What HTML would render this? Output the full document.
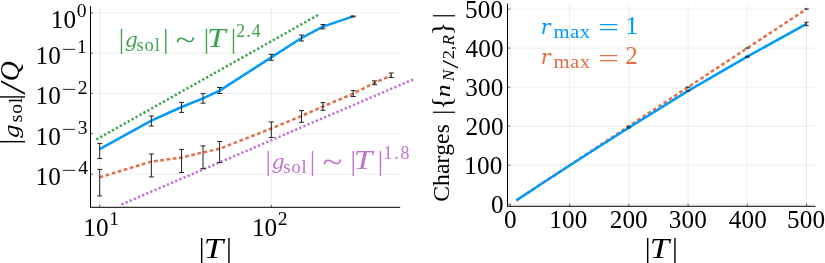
<!DOCTYPE html>
<html lang="en"><head><meta charset="utf-8"><title>Scaling of g_sol and conserved charges</title>
<style>
html,body{margin:0;padding:0;background:#fff;}
body{width:825px;height:263px;overflow:hidden;font-family:"Liberation Serif",serif;}
svg{display:block;}
text{white-space:pre;}
</style></head>
<body>
<svg width="825" height="263" viewBox="0 0 825 263">
<rect width="825" height="263" fill="#fff"/>
<g id="left-panel">
<line x1="90.50" y1="12.80" x2="400.20" y2="12.80" stroke="#000" stroke-width="1" stroke-opacity="0.07"/>
<line x1="90.50" y1="53.20" x2="400.20" y2="53.20" stroke="#000" stroke-width="1" stroke-opacity="0.07"/>
<line x1="90.50" y1="93.40" x2="400.20" y2="93.40" stroke="#000" stroke-width="1" stroke-opacity="0.07"/>
<line x1="90.50" y1="133.70" x2="400.20" y2="133.70" stroke="#000" stroke-width="1" stroke-opacity="0.07"/>
<line x1="90.50" y1="174.20" x2="400.20" y2="174.20" stroke="#000" stroke-width="1" stroke-opacity="0.07"/>
<line x1="99.70" y1="6.00" x2="99.70" y2="207.30" stroke="#000" stroke-width="1" stroke-opacity="0.07"/>
<line x1="271.30" y1="6.00" x2="271.30" y2="207.30" stroke="#000" stroke-width="1" stroke-opacity="0.07"/>
<polyline points="96.30,139.50 319.30,14.30" fill="none" stroke="#3EA44E" stroke-width="2.5" stroke-dasharray="2.3 2.2" stroke-linejoin="round"/>
<polyline points="121.40,204.50 413.00,79.50" fill="none" stroke="#C371D2" stroke-width="2.5" stroke-dasharray="2.3 2.2" stroke-linejoin="round"/>
<polyline points="99.70,149.20 151.36,120.60 181.57,107.00 203.01,98.30 219.64,90.60 271.30,57.40 301.52,38.00 322.96,26.60 353.17,16.40" fill="none" stroke="#009AFA" stroke-width="2.5" stroke-linejoin="round"/>
<polyline points="99.70,177.30 151.36,161.60 181.57,157.60 203.01,152.30 219.64,148.80 271.30,128.50 301.52,116.00 322.96,106.50 353.17,93.70 374.61,82.80 391.24,75.30" fill="none" stroke="#E36F47" stroke-width="2.5" stroke-dasharray="3.7 2.6" stroke-linejoin="round"/>
<line x1="99.70" y1="143.40" x2="99.70" y2="158.60" stroke="#222" stroke-width="1.0"/>
<line x1="97.20" y1="143.40" x2="102.20" y2="143.40" stroke="#222" stroke-width="1.0"/>
<line x1="97.20" y1="158.60" x2="102.20" y2="158.60" stroke="#222" stroke-width="1.0"/>
<line x1="151.36" y1="116.00" x2="151.36" y2="126.00" stroke="#222" stroke-width="1.0"/>
<line x1="148.86" y1="116.00" x2="153.86" y2="116.00" stroke="#222" stroke-width="1.0"/>
<line x1="148.86" y1="126.00" x2="153.86" y2="126.00" stroke="#222" stroke-width="1.0"/>
<line x1="181.57" y1="102.40" x2="181.57" y2="112.40" stroke="#222" stroke-width="1.0"/>
<line x1="179.07" y1="102.40" x2="184.07" y2="102.40" stroke="#222" stroke-width="1.0"/>
<line x1="179.07" y1="112.40" x2="184.07" y2="112.40" stroke="#222" stroke-width="1.0"/>
<line x1="203.01" y1="93.60" x2="203.01" y2="103.20" stroke="#222" stroke-width="1.0"/>
<line x1="200.51" y1="93.60" x2="205.51" y2="93.60" stroke="#222" stroke-width="1.0"/>
<line x1="200.51" y1="103.20" x2="205.51" y2="103.20" stroke="#222" stroke-width="1.0"/>
<line x1="219.64" y1="87.50" x2="219.64" y2="93.50" stroke="#222" stroke-width="1.0"/>
<line x1="217.14" y1="87.50" x2="222.14" y2="87.50" stroke="#222" stroke-width="1.0"/>
<line x1="217.14" y1="93.50" x2="222.14" y2="93.50" stroke="#222" stroke-width="1.0"/>
<line x1="271.30" y1="54.40" x2="271.30" y2="60.30" stroke="#222" stroke-width="1.0"/>
<line x1="268.80" y1="54.40" x2="273.80" y2="54.40" stroke="#222" stroke-width="1.0"/>
<line x1="268.80" y1="60.30" x2="273.80" y2="60.30" stroke="#222" stroke-width="1.0"/>
<line x1="301.52" y1="35.00" x2="301.52" y2="41.00" stroke="#222" stroke-width="1.0"/>
<line x1="299.02" y1="35.00" x2="304.02" y2="35.00" stroke="#222" stroke-width="1.0"/>
<line x1="299.02" y1="41.00" x2="304.02" y2="41.00" stroke="#222" stroke-width="1.0"/>
<line x1="322.96" y1="24.50" x2="322.96" y2="28.90" stroke="#222" stroke-width="1.0"/>
<line x1="320.46" y1="24.50" x2="325.46" y2="24.50" stroke="#222" stroke-width="1.0"/>
<line x1="320.46" y1="28.90" x2="325.46" y2="28.90" stroke="#222" stroke-width="1.0"/>
<line x1="353.17" y1="16.00" x2="353.17" y2="16.80" stroke="#222" stroke-width="1.0"/>
<line x1="350.67" y1="16.00" x2="355.67" y2="16.00" stroke="#222" stroke-width="1.0"/>
<line x1="350.67" y1="16.80" x2="355.67" y2="16.80" stroke="#222" stroke-width="1.0"/>
<line x1="99.70" y1="169.40" x2="99.70" y2="195.90" stroke="#222" stroke-width="1.0"/>
<line x1="97.20" y1="169.40" x2="102.20" y2="169.40" stroke="#222" stroke-width="1.0"/>
<line x1="97.20" y1="195.90" x2="102.20" y2="195.90" stroke="#222" stroke-width="1.0"/>
<line x1="151.36" y1="154.00" x2="151.36" y2="176.90" stroke="#222" stroke-width="1.0"/>
<line x1="148.86" y1="154.00" x2="153.86" y2="154.00" stroke="#222" stroke-width="1.0"/>
<line x1="148.86" y1="176.90" x2="153.86" y2="176.90" stroke="#222" stroke-width="1.0"/>
<line x1="181.57" y1="149.40" x2="181.57" y2="172.50" stroke="#222" stroke-width="1.0"/>
<line x1="179.07" y1="149.40" x2="184.07" y2="149.40" stroke="#222" stroke-width="1.0"/>
<line x1="179.07" y1="172.50" x2="184.07" y2="172.50" stroke="#222" stroke-width="1.0"/>
<line x1="203.01" y1="145.90" x2="203.01" y2="168.60" stroke="#222" stroke-width="1.0"/>
<line x1="200.51" y1="145.90" x2="205.51" y2="145.90" stroke="#222" stroke-width="1.0"/>
<line x1="200.51" y1="168.60" x2="205.51" y2="168.60" stroke="#222" stroke-width="1.0"/>
<line x1="219.64" y1="141.50" x2="219.64" y2="162.60" stroke="#222" stroke-width="1.0"/>
<line x1="217.14" y1="141.50" x2="222.14" y2="141.50" stroke="#222" stroke-width="1.0"/>
<line x1="217.14" y1="162.60" x2="222.14" y2="162.60" stroke="#222" stroke-width="1.0"/>
<line x1="271.30" y1="121.90" x2="271.30" y2="137.50" stroke="#222" stroke-width="1.0"/>
<line x1="268.80" y1="121.90" x2="273.80" y2="121.90" stroke="#222" stroke-width="1.0"/>
<line x1="268.80" y1="137.50" x2="273.80" y2="137.50" stroke="#222" stroke-width="1.0"/>
<line x1="301.52" y1="110.60" x2="301.52" y2="122.30" stroke="#222" stroke-width="1.0"/>
<line x1="299.02" y1="110.60" x2="304.02" y2="110.60" stroke="#222" stroke-width="1.0"/>
<line x1="299.02" y1="122.30" x2="304.02" y2="122.30" stroke="#222" stroke-width="1.0"/>
<line x1="322.96" y1="102.60" x2="322.96" y2="110.30" stroke="#222" stroke-width="1.0"/>
<line x1="320.46" y1="102.60" x2="325.46" y2="102.60" stroke="#222" stroke-width="1.0"/>
<line x1="320.46" y1="110.30" x2="325.46" y2="110.30" stroke="#222" stroke-width="1.0"/>
<line x1="353.17" y1="90.60" x2="353.17" y2="96.50" stroke="#222" stroke-width="1.0"/>
<line x1="350.67" y1="90.60" x2="355.67" y2="90.60" stroke="#222" stroke-width="1.0"/>
<line x1="350.67" y1="96.50" x2="355.67" y2="96.50" stroke="#222" stroke-width="1.0"/>
<line x1="374.61" y1="80.90" x2="374.61" y2="84.70" stroke="#222" stroke-width="1.0"/>
<line x1="372.11" y1="80.90" x2="377.11" y2="80.90" stroke="#222" stroke-width="1.0"/>
<line x1="372.11" y1="84.70" x2="377.11" y2="84.70" stroke="#222" stroke-width="1.0"/>
<line x1="391.24" y1="73.00" x2="391.24" y2="77.60" stroke="#222" stroke-width="1.0"/>
<line x1="388.74" y1="73.00" x2="393.74" y2="73.00" stroke="#222" stroke-width="1.0"/>
<line x1="388.74" y1="77.60" x2="393.74" y2="77.60" stroke="#222" stroke-width="1.0"/>
<line x1="90.50" y1="6.00" x2="90.50" y2="207.80" stroke="#000" stroke-width="1"/>
<line x1="90.00" y1="207.30" x2="400.20" y2="207.30" stroke="#000" stroke-width="1"/>
<line x1="90.50" y1="12.80" x2="93.00" y2="12.80" stroke="#000" stroke-width="0.8" stroke-opacity="0.75"/>
<line x1="90.50" y1="53.20" x2="93.00" y2="53.20" stroke="#000" stroke-width="0.8" stroke-opacity="0.75"/>
<line x1="90.50" y1="93.40" x2="93.00" y2="93.40" stroke="#000" stroke-width="0.8" stroke-opacity="0.75"/>
<line x1="90.50" y1="133.70" x2="93.00" y2="133.70" stroke="#000" stroke-width="0.8" stroke-opacity="0.75"/>
<line x1="90.50" y1="174.20" x2="93.00" y2="174.20" stroke="#000" stroke-width="0.8" stroke-opacity="0.75"/>
<line x1="99.70" y1="207.30" x2="99.70" y2="204.80" stroke="#000" stroke-width="0.8" stroke-opacity="0.75"/>
<line x1="271.30" y1="207.30" x2="271.30" y2="204.80" stroke="#000" stroke-width="0.8" stroke-opacity="0.75"/>
</g>
<g id="left-ticks">
<text transform="translate(50.79 27.50)" font-family='"Liberation Serif", serif' font-size="25.2" letter-spacing="0.1" fill="#000">10</text>
<text transform="translate(76.65 16.70) scale(1.100 1.000)" font-family='"Liberation Serif", serif' font-size="17.8" fill="#000">0</text>
<text transform="translate(35.49 64.10)" font-family='"Liberation Serif", serif' font-size="25.2" letter-spacing="0.1" fill="#000">10</text>
<text transform="translate(61.47 54.80) scale(1.497 1.000)" font-family='"Liberation Serif", serif' font-size="17.8" fill="#000">−</text>
<text transform="translate(76.88 53.30) scale(1.100 1.000)" font-family='"Liberation Serif", serif' font-size="17.8" fill="#000">1</text>
<text transform="translate(35.49 104.30)" font-family='"Liberation Serif", serif' font-size="25.2" letter-spacing="0.1" fill="#000">10</text>
<text transform="translate(61.47 95.00) scale(1.497 1.000)" font-family='"Liberation Serif", serif' font-size="17.8" fill="#000">−</text>
<text transform="translate(77.74 93.50) scale(1.100 1.000)" font-family='"Liberation Serif", serif' font-size="17.8" fill="#000">2</text>
<text transform="translate(35.49 144.60)" font-family='"Liberation Serif", serif' font-size="25.2" letter-spacing="0.1" fill="#000">10</text>
<text transform="translate(61.47 135.30) scale(1.497 1.000)" font-family='"Liberation Serif", serif' font-size="17.8" fill="#000">−</text>
<text transform="translate(77.66 133.80) scale(1.100 1.000)" font-family='"Liberation Serif", serif' font-size="17.8" fill="#000">3</text>
<text transform="translate(35.49 185.10)" font-family='"Liberation Serif", serif' font-size="25.2" letter-spacing="0.1" fill="#000">10</text>
<text transform="translate(61.47 175.80) scale(1.497 1.000)" font-family='"Liberation Serif", serif' font-size="17.8" fill="#000">−</text>
<text transform="translate(78.22 174.30) scale(1.100 1.000)" font-family='"Liberation Serif", serif' font-size="17.8" fill="#000">4</text>
<text transform="translate(83.19 236.00)" font-family='"Liberation Serif", serif' font-size="25.2" letter-spacing="0.1" fill="#000">10</text>
<text transform="translate(109.28 225.20) scale(1.100 1.000)" font-family='"Liberation Serif", serif' font-size="17.8" fill="#000">1</text>
<text transform="translate(251.89 236.00)" font-family='"Liberation Serif", serif' font-size="25.2" letter-spacing="0.1" fill="#000">10</text>
<text transform="translate(277.74 225.20) scale(1.100 1.000)" font-family='"Liberation Serif", serif' font-size="17.8" fill="#000">2</text>
</g>
<g id="annotations-left">
<text transform="translate(118.75 47.77)" font-family='"Liberation Serif", serif' font-size="27.2" fill="#3EA44E">|</text>
<text transform="translate(124.68 47.40)" font-family='"DejaVu Serif", serif' font-size="20.5" font-style="italic" fill="#3EA44E">g</text>
<text transform="translate(136.44 51.20)" font-family='"Liberation Serif", serif' font-size="18.6" letter-spacing="0.9" fill="#3EA44E">sol</text>
<text transform="translate(163.05 47.77)" font-family='"Liberation Serif", serif' font-size="27.2" fill="#3EA44E">|</text>
<text transform="translate(175.58 49.60) scale(1.267 1.000)" font-family='"Liberation Serif", serif' font-size="29" fill="#3EA44E">~</text>
<text transform="translate(203.75 47.77)" font-family='"Liberation Serif", serif' font-size="27.2" fill="#3EA44E">|</text>
<text transform="translate(207.01 47.40) scale(1.250 1.000)" font-family='"Liberation Serif", serif' font-size="26.8" font-style="italic" fill="#3EA44E">T</text>
<text transform="translate(230.85 47.77)" font-family='"Liberation Serif", serif' font-size="27.2" fill="#3EA44E">|</text>
<text transform="translate(236.22 37.20)" font-family='"Liberation Serif", serif' font-size="17.8" letter-spacing="1.1" fill="#3EA44E">2.4</text>
<text transform="translate(265.55 169.67)" font-family='"Liberation Serif", serif' font-size="27.2" fill="#C371D2">|</text>
<text transform="translate(271.48 169.30)" font-family='"DejaVu Serif", serif' font-size="20.5" font-style="italic" fill="#C371D2">g</text>
<text transform="translate(283.24 173.10)" font-family='"Liberation Serif", serif' font-size="18.6" letter-spacing="0.9" fill="#C371D2">sol</text>
<text transform="translate(309.85 169.67)" font-family='"Liberation Serif", serif' font-size="27.2" fill="#C371D2">|</text>
<text transform="translate(322.38 171.50) scale(1.267 1.000)" font-family='"Liberation Serif", serif' font-size="29" fill="#C371D2">~</text>
<text transform="translate(350.55 169.67)" font-family='"Liberation Serif", serif' font-size="27.2" fill="#C371D2">|</text>
<text transform="translate(353.81 169.30) scale(1.250 1.000)" font-family='"Liberation Serif", serif' font-size="26.8" font-style="italic" fill="#C371D2">T</text>
<text transform="translate(377.65 169.67)" font-family='"Liberation Serif", serif' font-size="27.2" fill="#C371D2">|</text>
<text transform="translate(383.44 159.10)" font-family='"Liberation Serif", serif' font-size="17.8" letter-spacing="1.9" fill="#C371D2">1.8</text>
</g>
<g id="left-guides">
<text transform="translate(198.80 257.89)" font-family='"Liberation Serif", serif' font-size="29.212000000000003" fill="#000">|</text>
<text transform="translate(203.72 257.50) scale(1.220 1.000)" font-family='"Liberation Serif", serif' font-size="28.6" font-style="italic" fill="#000">T</text>
<text transform="translate(226.10 257.89)" font-family='"Liberation Serif", serif' font-size="29.212000000000003" fill="#000">|</text>
<text transform="translate(19.13 144.43) rotate(-90)" font-family='"Liberation Serif", serif' font-size="28.340000000000003" fill="#000">|</text>
<text transform="translate(18.75 138.80) rotate(-90) scale(1.085 1.000)" font-family='"DejaVu Serif", serif' font-size="21.0" font-style="italic" fill="#000">g</text>
<text transform="translate(22.45 122.20) rotate(-90)" font-family='"Liberation Serif", serif' font-size="19.6" letter-spacing="0.8" fill="#000">sol</text>
<text transform="translate(19.13 99.83) rotate(-90)" font-family='"Liberation Serif", serif' font-size="28.340000000000003" fill="#000">|</text>
<text transform="translate(24.95 92.95) rotate(-90)" font-family='"Liberation Serif", serif' font-size="36.0" font-style="italic" fill="#000">/</text>
<text transform="translate(18.75 81.13) rotate(-90) scale(1.028 1.000)" font-family='"Liberation Serif", serif' font-size="27.0" font-style="italic" fill="#000">Q</text>
</g>
<g id="right-panel">
<line x1="507.50" y1="204.30" x2="815.50" y2="204.30" stroke="#000" stroke-width="1" stroke-opacity="0.07"/>
<line x1="510.40" y1="3.60" x2="510.40" y2="206.30" stroke="#000" stroke-width="1" stroke-opacity="0.07"/>
<line x1="507.50" y1="165.25" x2="815.50" y2="165.25" stroke="#000" stroke-width="1" stroke-opacity="0.07"/>
<line x1="569.62" y1="3.60" x2="569.62" y2="206.30" stroke="#000" stroke-width="1" stroke-opacity="0.07"/>
<line x1="507.50" y1="126.20" x2="815.50" y2="126.20" stroke="#000" stroke-width="1" stroke-opacity="0.07"/>
<line x1="628.84" y1="3.60" x2="628.84" y2="206.30" stroke="#000" stroke-width="1" stroke-opacity="0.07"/>
<line x1="507.50" y1="87.15" x2="815.50" y2="87.15" stroke="#000" stroke-width="1" stroke-opacity="0.07"/>
<line x1="688.06" y1="3.60" x2="688.06" y2="206.30" stroke="#000" stroke-width="1" stroke-opacity="0.07"/>
<line x1="507.50" y1="48.10" x2="815.50" y2="48.10" stroke="#000" stroke-width="1" stroke-opacity="0.07"/>
<line x1="747.28" y1="3.60" x2="747.28" y2="206.30" stroke="#000" stroke-width="1" stroke-opacity="0.07"/>
<line x1="507.50" y1="9.05" x2="815.50" y2="9.05" stroke="#000" stroke-width="1" stroke-opacity="0.07"/>
<line x1="806.50" y1="3.60" x2="806.50" y2="206.30" stroke="#000" stroke-width="1" stroke-opacity="0.07"/>
<polyline points="516.32,200.40 522.24,196.49 528.17,192.59 534.09,188.68 540.01,184.78 569.62,165.25 599.23,145.73 628.84,126.20 688.06,87.15 747.28,48.10 806.50,9.05" fill="none" stroke="#E36F47" stroke-width="2.5" stroke-dasharray="3.7 2.6" stroke-linejoin="round"/>
<line x1="626.64" y1="126.20" x2="631.04" y2="126.20" stroke="#222" stroke-width="1.2"/>
<line x1="685.86" y1="87.15" x2="690.26" y2="87.15" stroke="#222" stroke-width="1.2"/>
<line x1="745.08" y1="48.10" x2="749.48" y2="48.10" stroke="#222" stroke-width="1.2"/>
<line x1="804.30" y1="9.05" x2="808.70" y2="9.05" stroke="#222" stroke-width="1.2"/>
<polyline points="516.32,200.40 522.24,196.49 528.17,192.59 534.09,188.68 540.01,184.78 569.62,165.45 599.23,146.51 628.84,127.76 688.06,90.82 747.28,56.69 806.50,23.89" fill="none" stroke="#009AFA" stroke-width="2.5" stroke-linejoin="round"/>
<line x1="626.64" y1="127.76" x2="631.04" y2="127.76" stroke="#222" stroke-width="1.2"/>
<line x1="685.86" y1="90.82" x2="690.26" y2="90.82" stroke="#222" stroke-width="1.2"/>
<line x1="747.28" y1="56.19" x2="747.28" y2="57.19" stroke="#222" stroke-width="1.0"/>
<line x1="745.08" y1="56.19" x2="749.48" y2="56.19" stroke="#222" stroke-width="1.0"/>
<line x1="745.08" y1="57.19" x2="749.48" y2="57.19" stroke="#222" stroke-width="1.0"/>
<line x1="806.50" y1="22.19" x2="806.50" y2="25.59" stroke="#222" stroke-width="1.0"/>
<line x1="804.30" y1="22.19" x2="808.70" y2="22.19" stroke="#222" stroke-width="1.0"/>
<line x1="804.30" y1="25.59" x2="808.70" y2="25.59" stroke="#222" stroke-width="1.0"/>
<line x1="507.50" y1="3.60" x2="507.50" y2="206.80" stroke="#000" stroke-width="1"/>
<line x1="507.00" y1="206.30" x2="815.50" y2="206.30" stroke="#000" stroke-width="1"/>
<line x1="507.50" y1="204.30" x2="510.00" y2="204.30" stroke="#000" stroke-width="0.8" stroke-opacity="0.75"/>
<line x1="510.40" y1="206.30" x2="510.40" y2="203.80" stroke="#000" stroke-width="0.8" stroke-opacity="0.75"/>
<line x1="507.50" y1="165.25" x2="510.00" y2="165.25" stroke="#000" stroke-width="0.8" stroke-opacity="0.75"/>
<line x1="569.62" y1="206.30" x2="569.62" y2="203.80" stroke="#000" stroke-width="0.8" stroke-opacity="0.75"/>
<line x1="507.50" y1="126.20" x2="510.00" y2="126.20" stroke="#000" stroke-width="0.8" stroke-opacity="0.75"/>
<line x1="628.84" y1="206.30" x2="628.84" y2="203.80" stroke="#000" stroke-width="0.8" stroke-opacity="0.75"/>
<line x1="507.50" y1="87.15" x2="510.00" y2="87.15" stroke="#000" stroke-width="0.8" stroke-opacity="0.75"/>
<line x1="688.06" y1="206.30" x2="688.06" y2="203.80" stroke="#000" stroke-width="0.8" stroke-opacity="0.75"/>
<line x1="507.50" y1="48.10" x2="510.00" y2="48.10" stroke="#000" stroke-width="0.8" stroke-opacity="0.75"/>
<line x1="747.28" y1="206.30" x2="747.28" y2="203.80" stroke="#000" stroke-width="0.8" stroke-opacity="0.75"/>
<line x1="507.50" y1="9.05" x2="510.00" y2="9.05" stroke="#000" stroke-width="0.8" stroke-opacity="0.75"/>
<line x1="806.50" y1="206.30" x2="806.50" y2="203.80" stroke="#000" stroke-width="0.8" stroke-opacity="0.75"/>
</g>
<g id="right-ticks">
<text transform="translate(490.96 213.40)" font-family='"Liberation Serif", serif' font-size="25.2" letter-spacing="0.1" fill="#000">0</text>
<text transform="translate(504.10 227.90)" font-family='"Liberation Serif", serif' font-size="25.2" letter-spacing="0.1" fill="#000">0</text>
<text transform="translate(464.30 174.35)" font-family='"Liberation Serif", serif' font-size="25.2" letter-spacing="0.1" fill="#000">100</text>
<text transform="translate(549.36 227.90)" font-family='"Liberation Serif", serif' font-size="25.2" letter-spacing="0.1" fill="#000">100</text>
<text transform="translate(465.56 135.30)" font-family='"Liberation Serif", serif' font-size="25.2" letter-spacing="0.1" fill="#000">200</text>
<text transform="translate(609.69 227.90)" font-family='"Liberation Serif", serif' font-size="25.2" letter-spacing="0.1" fill="#000">200</text>
<text transform="translate(465.31 96.25)" font-family='"Liberation Serif", serif' font-size="25.2" letter-spacing="0.1" fill="#000">300</text>
<text transform="translate(668.81 227.90)" font-family='"Liberation Serif", serif' font-size="25.2" letter-spacing="0.1" fill="#000">300</text>
<text transform="translate(465.57 57.20)" font-family='"Liberation Serif", serif' font-size="25.2" letter-spacing="0.1" fill="#000">400</text>
<text transform="translate(728.75 227.90)" font-family='"Liberation Serif", serif' font-size="25.2" letter-spacing="0.1" fill="#000">400</text>
<text transform="translate(465.05 18.15)" font-family='"Liberation Serif", serif' font-size="25.2" letter-spacing="0.1" fill="#000">500</text>
<text transform="translate(786.99 227.90)" font-family='"Liberation Serif", serif' font-size="25.2" letter-spacing="0.1" fill="#000">500</text>
</g>
<g id="legend-right">
<text transform="translate(540.76 33.70)" font-family='"DejaVu Serif", serif' font-size="20.5" font-style="italic" fill="#009AFA">r</text>
<text transform="translate(553.56 37.50) scale(1.130 1)" font-family='"Liberation Serif", serif' font-size="18.4" letter-spacing="0.3" fill="#009AFA">max</text>
<text transform="translate(597.94 36.10) scale(1.438 1.000)" font-family='"Liberation Serif", serif' font-size="26" fill="#009AFA">=</text>
<text transform="translate(625.59 33.70)" font-family='"Liberation Serif", serif' font-size="25.2" fill="#009AFA">1</text>
<text transform="translate(540.76 64.10)" font-family='"DejaVu Serif", serif' font-size="20.5" font-style="italic" fill="#E36F47">r</text>
<text transform="translate(553.56 67.90) scale(1.130 1)" font-family='"Liberation Serif", serif' font-size="18.4" letter-spacing="0.3" fill="#E36F47">max</text>
<text transform="translate(597.94 66.50) scale(1.438 1.000)" font-family='"Liberation Serif", serif' font-size="26" fill="#E36F47">=</text>
<text transform="translate(625.29 64.10)" font-family='"Liberation Serif", serif' font-size="25.2" fill="#E36F47">2</text>
</g>
<g id="right-guides">
<text transform="translate(644.80 257.89)" font-family='"Liberation Serif", serif' font-size="29.212000000000003" fill="#000">|</text>
<text transform="translate(649.72 257.50) scale(1.220 1.000)" font-family='"Liberation Serif", serif' font-size="28.6" font-style="italic" fill="#000">T</text>
<text transform="translate(672.10 257.89)" font-family='"Liberation Serif", serif' font-size="29.212000000000003" fill="#000">|</text>
<text transform="translate(448.70 201.87) rotate(-90)" font-family='"Liberation Serif", serif' font-size="23.6" letter-spacing="0.15" fill="#000">Charges</text>
<text transform="translate(449.83 114.77) rotate(-90)" font-family='"Liberation Serif", serif' font-size="24.852000000000004" fill="#000">|</text>
<text transform="translate(450.50 109.46) rotate(-90) scale(1.280 1.200)" font-family='"Liberation Serif", serif' font-size="22.0" fill="#000">{</text>
<text transform="translate(449.50 97.21) rotate(-90) scale(1.188 1.000)" font-family='"Liberation Serif", serif' font-size="21.5" font-style="italic" fill="#000">n</text>
<text transform="translate(454.00 81.27) rotate(-90)" font-family='"Liberation Serif", serif' font-size="17.4" font-style="italic" fill="#000">N</text>
<text transform="translate(457.60 68.60) rotate(-90) scale(1.315 1.000)" font-family='"Liberation Serif", serif' font-size="23.0" fill="#000">/</text>
<text transform="translate(454.00 59.21) rotate(-90) scale(1.112 1.000)" font-family='"Liberation Serif", serif' font-size="16.6" fill="#000">2</text>
<text transform="translate(454.00 50.03) rotate(-90)" font-family='"Liberation Serif", serif' font-size="16.6" fill="#000">,</text>
<text transform="translate(454.00 45.21) rotate(-90)" font-family='"Liberation Serif", serif' font-size="16.6" font-style="italic" fill="#000">R</text>
<text transform="translate(450.50 35.46) rotate(-90) scale(1.280 1.200)" font-family='"Liberation Serif", serif' font-size="22.0" fill="#000">}</text>
<text transform="translate(449.83 18.27) rotate(-90)" font-family='"Liberation Serif", serif' font-size="24.852000000000004" fill="#000">|</text>
</g>
</svg>
</body></html>
